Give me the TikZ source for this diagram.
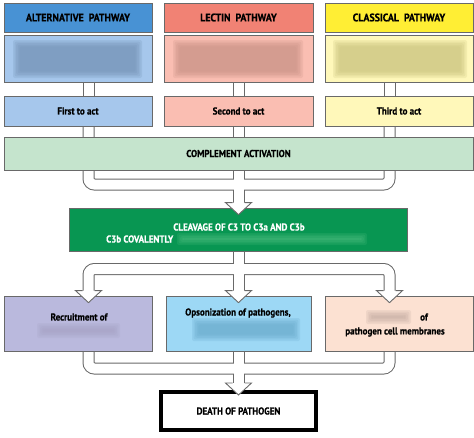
\documentclass[tikz,border=0pt]{standalone}
\usepackage{fontspec}
\setmainfont{PT Sans}[FakeStretch=0.9, FakeBold=0.5]
\usetikzlibrary{calc,backgrounds}

\definecolor{linegray}{RGB}{105,105,105}
\definecolor{altblue}{RGB}{72,146,212}
\definecolor{lecred}{RGB}{241,130,116}
\definecolor{clayellow}{RGB}{255,238,52}
\definecolor{altlight}{RGB}{166,199,236}
\definecolor{leclight}{RGB}{250,190,178}
\definecolor{clalight}{RGB}{255,248,186}
\definecolor{compgreen}{RGB}{197,228,205}
\definecolor{cleavegreen}{RGB}{8,150,82}
\definecolor{recpurple}{RGB}{186,185,221}
\definecolor{opsblue}{RGB}{157,216,245}
\definecolor{lyspeach}{RGB}{252,225,210}
\definecolor{altsmudge}{RGB}{110,140,175}
\definecolor{lecsmudge}{RGB}{195,140,128}
\definecolor{clasmudge}{RGB}{195,190,120}
\definecolor{cleavesmudge}{RGB}{80,190,130}
\definecolor{recsmudge}{RGB}{165,160,195}
\definecolor{opssmudge}{RGB}{100,165,200}
\definecolor{lyssmudge}{RGB}{190,165,155}

\newcommand\smudge[3]{%
  \foreach \k in {0,...,4}
    \fill[#3, opacity=.2, rounded corners=2pt] ($(#1)+(\k*1.6,\k*1.6)$) rectangle ($(#2)-(\k*1.6,\k*1.6)$);
}

\tikzset{
  box/.style={draw=linegray, line width=0.8pt, inner sep=0pt},
  head/.style={box, minimum width=148pt, minimum height=29pt, font=\bfseries\fontsize{11}{13}\selectfont},
  txt/.style={inner sep=0pt, font=\bfseries\fontsize{10}{12}\selectfont},
  pipehead/.pic={
    \filldraw[fill=white, draw=linegray, line width=0.9pt] (-6,-12) -- (-13,-12) -- (0,0) -- (13,-12) -- (6,-12);
  }
}

\begin{document}
\begin{tikzpicture}[x=1pt, y=-1pt]
\useasboundingbox (0,0) rectangle (474,437);

% pathways
\node[head, fill=altblue] (alt) at (78,17.5) {ALTERNATIVE\ \ PATHWAY};
\node[head, fill=lecred, minimum width=149pt] (lec) at (238.5,17.5) {LECTIN\ \ PATHWAY};
\node[head, fill=clayellow] (cla) at (399,17.5) {CLASSICAL\ \ PATHWAY};

\node[box, fill=altlight, minimum width=148pt, minimum height=47pt] (altblur) at (78,58.5) {};
\node[box, fill=leclight, minimum width=149pt, minimum height=47pt] (lecblur) at (238.5,58.5) {};
\node[box, fill=clalight, minimum width=148pt, minimum height=47pt] (clablur) at (399,58.5) {};

\node[box, txt, fill=altlight, minimum width=148pt, minimum height=30pt] (altact) at (78,111) {First to act};
\node[box, txt, fill=leclight, minimum width=149pt, minimum height=30pt] (lecact) at (238.5,111) {Second to act};
\node[box, txt, fill=clalight, minimum width=148pt, minimum height=30pt] (claact) at (399,111) {Third to act};

\node[box, txt, fill=compgreen, minimum width=469pt, minimum height=33pt] (comp) at (238.5,153.5) {COMPLEMENT ACTIVATION};

% cleavage
\node[box, fill=cleavegreen, minimum width=338pt, minimum height=43pt] (cleave) at (238,229.5) {};
\node[txt, text=white] (cleavetxt) at (239,227) {CLEAVAGE OF C3 TO C3a AND C3b};
\node[txt, text=white, anchor=west] (cov) at (106,239) {C3b COVALENTLY};

% effects
\node[box, fill=recpurple, minimum width=148pt, minimum height=55pt] (recruit) at (78,323.5) {};
\node[box, fill=opsblue, minimum width=145pt, minimum height=55pt] (opson) at (238.5,323.5) {};
\node[box, fill=lyspeach, minimum width=148pt, minimum height=55pt] (lysis) at (399,323.5) {};
\node[txt] (rectxt) at (79,317) {Recruitment of};
\node[txt] (opstxt) at (238,313) {Opsonization of pathogens,};
\node[txt] (lysof) at (424,317) {of};
\node[txt] (lystxt) at (395,332) {pathogen cell membranes};

\node[draw, line width=4pt, txt, fill=white, minimum width=155pt, minimum height=38pt] (death) at (238.5,411) {DEATH OF PATHOGEN};

% blurred answers
\smudge{13,40}{142,78}{altsmudge}
\smudge{173,40}{303,78}{lecsmudge}
\smudge{333,40}{467,78}{clasmudge}
\smudge{177,233}{367,245}{cleavesmudge}
\smudge{37,323}{120,338}{recsmudge}
\smudge{192,318}{300,341}{opssmudge}
\smudge{366,310}{411,324}{lyssmudge}

% pipes
\coordinate (pl) at (88.5,0);
\coordinate (pc) at (238.5,0);
\coordinate (pr) at (389.5,0);
\coordinate (mergetop) at (0,184.5);
\coordinate (split) at (0,269);
\coordinate (mergebot) at (0,368.5);
\begin{scope}[on background layer]
\foreach \c/\w in {linegray/12pt, white/10pt} {
  \draw[\c, line width=\w] (pl |- altblur.south) -- (pl |- altact.north);
  \draw[\c, line width=\w] (pc |- lecblur.south) -- (pc |- lecact.north);
  \draw[\c, line width=\w] (pr |- clablur.south) -- (pr |- claact.north);
  \draw[\c, line width=\w] (pc |- lecact.south) -- (pc |- cleave.north);
  \draw[\c, line width=\w] (pc |- cleave.south) -- (pc |- opson.north);
  \draw[\c, line width=\w] (pc |- opson.south) -- (pc |- death.north);
  \draw[\c, line width=\w, rounded corners=6pt] (pl |- altact.south) |- (pc |- mergetop);
  \draw[\c, line width=\w, rounded corners=6pt] (pr |- claact.south) |- (pc |- mergetop);
  \draw[\c, line width=\w, rounded corners=6pt] (pc |- split) -| (pl |- recruit.north);
  \draw[\c, line width=\w, rounded corners=6pt] (pc |- split) -| (pr |- lysis.north);
  \draw[\c, line width=\w, rounded corners=6pt] (pl |- recruit.south) |- (pc |- mergebot);
  \draw[\c, line width=\w, rounded corners=6pt] (pr |- lysis.south) |- (pc |- mergebot);
}
\end{scope}

\pic at ($(cleave.north)+(0.5,7)$) {pipehead};
\pic at ($(pl |- recruit.north)+(0,7)$) {pipehead};
\pic at ($(pc |- opson.north)+(0,7)$) {pipehead};
\pic at ($(pr |- lysis.north)+(0,7)$) {pipehead};
\pic at ($(pc |- death.north)+(0,5)$) {pipehead};
\end{tikzpicture}
\end{document}
